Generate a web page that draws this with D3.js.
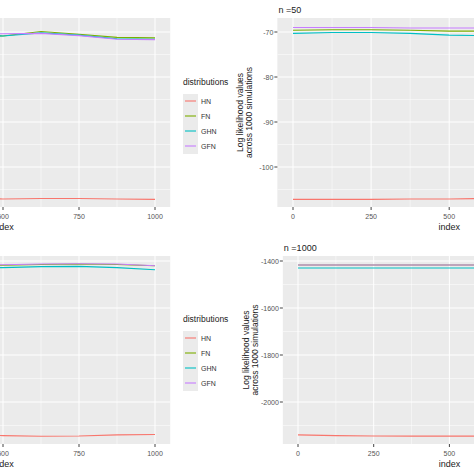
<!DOCTYPE html><html><head><meta charset="utf-8">
<script src="https://cdn.jsdelivr.net/npm/d3@7"></script>
<style>body{margin:0;background:#fff}text{font-family:"Liberation Sans",Arial,sans-serif}</style></head>
<body><svg id="c" width="474" height="474"></svg>
<script>
const index=[0,125,250,375,500,625,750,875,1000];
const seriesNames=["HN","FN","GHN","GFN"];
const colors=["#F8766D","#7CAE00","#00BFC4","#C77CFF"];
// top-left (title cropped)
const tlHN=[-107,-107,-107,-107,-107.1,-107.0,-107.0,-107.1,-107.2];
const tlFN=[-71,-70.8,-70.6,-70.5,-70.9,-69.9,-70.5,-71.2,-71.3];
const tlGHN=[-71,-70.8,-70.6,-70.5,-70.9,-70.2,-70.7,-71.5,-71.6];
const tlGFN=[-70.5,-70.4,-70.3,-70.3,-70.4,-70.3,-70.8,-71.6,-71.7];
// top-right n=50
const trHN=[-107.2,-107.2,-107.2,-107.1,-107.1,-107.0,-107.0,-107.0,-107.0];
const trFN=[-69.6,-69.5,-69.5,-69.6,-69.8,-69.8,-69.7,-69.7,-69.7];
const trGHN=[-70.3,-70.1,-70.1,-70.3,-70.7,-70.8,-70.8,-70.8,-70.8];
const trGFN=[-69.0,-69.0,-69.0,-69.1,-69.1,-69.1,-69.1,-69.1,-69.1];
// bottom-left (title cropped)
const blHN=[-2140,-2140,-2140,-2140,-2143,-2146,-2145,-2140,-2138];
const blFN=[-1420,-1420,-1420,-1420,-1418,-1415,-1413,-1415,-1420];
const blGHN=[-1430,-1430,-1430,-1430,-1428,-1424,-1423,-1428,-1437];
const blGFN=[-1417,-1417,-1417,-1417,-1416,-1413,-1412,-1413,-1420];
// bottom-right n=1000
const brHN=[-2140,-2143,-2145,-2145,-2145,-2145,-2145,-2145,-2145];
const brFN=[-1417,-1417,-1417,-1417,-1417,-1417,-1417,-1417,-1417];
const brGHN=[-1430,-1430,-1430,-1430,-1430,-1430,-1430,-1430,-1430];
const brGFN=[-1417,-1417,-1417,-1417,-1417,-1417,-1417,-1417,-1417];
const topTicks=[-70,-80,-90,-100];
const botTicks=[-1400,-1600,-1800,-2000];
const xTicks=[0,250,500,750,1000];

const svg=d3.select("#c");
function panel(o){
  const g=svg.append("g");
  const x=d3.scaleLinear().domain([0,1000]).range([o.x0,o.x0+1000*o.k]);
  const y=d3.scaleLinear().domain(o.yd).range(o.yr);
  const L=o.x0-50*o.k, R=o.x0+1050*o.k;
  const clipId="cl"+o.id;
  svg.append("clipPath").attr("id",clipId).append("rect").attr("x",L).attr("y",o.top).attr("width",R-L).attr("height",o.bot-o.top);
  g.append("rect").attr("x",L).attr("y",o.top).attr("width",R-L).attr("height",o.bot-o.top).attr("fill","#EBEBEB");
  const minor=[];for(let i=0;i<o.ticks.length-1;i++)minor.push((o.ticks[i]+o.ticks[i+1])/2);
  minor.push(o.ticks[o.ticks.length-1]+(o.ticks[1]-o.ticks[0])/2);
  const cg=g.append("g").attr("clip-path",`url(#${clipId})`);
  minor.forEach(v=>cg.append("line").attr("x1",L).attr("x2",R).attr("y1",y(v)).attr("y2",y(v)).attr("stroke","#fff").attr("stroke-width",0.5));
  [125,375,625,875].forEach(v=>cg.append("line").attr("x1",x(v)).attr("x2",x(v)).attr("y1",o.top).attr("y2",o.bot).attr("stroke","#fff").attr("stroke-width",0.5));
  o.ticks.forEach(v=>cg.append("line").attr("x1",L).attr("x2",R).attr("y1",y(v)).attr("y2",y(v)).attr("stroke","#fff").attr("stroke-width",1));
  xTicks.forEach(v=>cg.append("line").attr("x1",x(v)).attr("x2",x(v)).attr("y1",o.top).attr("y2",o.bot).attr("stroke","#fff").attr("stroke-width",1));
  const line=d3.line().x((d,i)=>x(index[i])).y(d=>y(d));
  [0,1,2,3].forEach(s=>cg.append("path").attr("d",line(o.data[s])).attr("fill","none").attr("stroke",colors[s]).attr("stroke-width",1.1));
  // x axis
  xTicks.forEach(v=>{g.append("line").attr("x1",x(v)).attr("x2",x(v)).attr("y1",o.bot).attr("y2",o.bot+3).attr("stroke","#444");
    g.append("text").attr("x",x(v)).attr("y",o.bot+12).attr("text-anchor","middle").attr("font-size",7).attr("fill","#555").text(v);});
  g.append("text").attr("x",(L+R)/2).attr("y",o.bot+23).attr("text-anchor","middle").attr("font-size",9).attr("fill","#222").text("index");
  if(o.showY){
    o.ticks.forEach(v=>{g.append("line").attr("x1",L-3).attr("x2",L).attr("y1",y(v)).attr("y2",y(v)).attr("stroke","#444");
      g.append("text").attr("x",L-4).attr("y",y(v)+2.5).attr("text-anchor","end").attr("font-size",7).attr("fill","#555").text(v);});
    const yt=g.append("text").attr("transform",`translate(${L-34},${(o.top+o.bot)/2}) rotate(-90)`).attr("text-anchor","middle").attr("font-size",8.5).attr("fill","#222");
    yt.append("tspan").attr("x",0).attr("dy",0).text("Log likelihood values");
    yt.append("tspan").attr("x",0).attr("dy",9).text("across 1000 simulations");
    g.append("text").attr("x",L+1).attr("y",o.top-5).attr("font-size",9).attr("fill","#222").text(o.title);
  }
}
function legend(yTop){
  const g=svg.append("g");
  g.append("text").attr("x",183).attr("y",yTop).attr("font-size",8.5).attr("fill","#222").text("distributions");
  seriesNames.forEach((n,i)=>{const yy=yTop+16+i*15;
    g.append("rect").attr("x",183).attr("y",yy-7).attr("width",15).attr("height",15).attr("fill","#EBEBEB");
    g.append("line").attr("x1",185).attr("x2",196).attr("y1",yy).attr("y2",yy).attr("stroke",colors[i]).attr("stroke-width",1.1);
    g.append("text").attr("x",201).attr("y",yy+2.5).attr("font-size",7).attr("fill","#333").text(n);});
}
panel({id:1,x0:-149,k:0.304,top:18,bot:207,yd:[-70,-100],yr:[32,167],ticks:topTicks,data:[tlHN,tlFN,tlGHN,tlGFN],showY:false});
panel({id:2,x0:293,k:0.3124,top:18,bot:207,yd:[-70,-100],yr:[32,167],ticks:topTicks,data:[trHN,trFN,trGHN,trGFN],showY:true,title:"n =50"});
panel({id:3,x0:-149,k:0.304,top:256,bot:444,yd:[-1400,-2000],yr:[261,402],ticks:botTicks,data:[blHN,blFN,blGHN,blGFN],showY:false});
panel({id:4,x0:298,k:0.3028,top:256,bot:444,yd:[-1400,-2000],yr:[261,402],ticks:botTicks,data:[brHN,brFN,brGHN,brGFN],showY:true,title:"n =1000"});
legend(85);legend(322);
</script></body></html>
